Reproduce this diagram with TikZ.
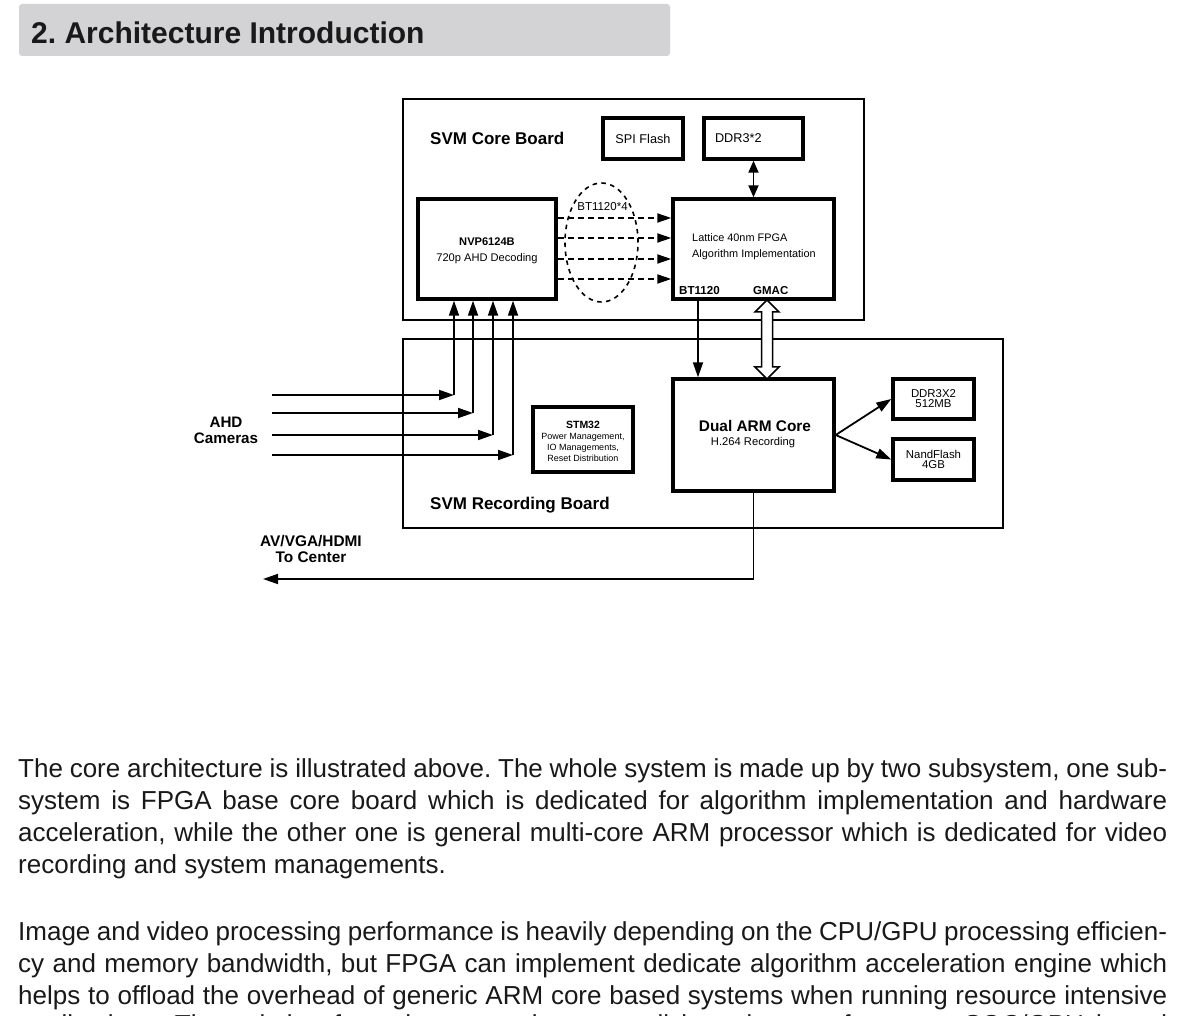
\documentclass[tikz,border=0pt]{standalone}
\usepackage{fontspec}
\setmainfont{Liberation Sans}
\usetikzlibrary{arrows.meta,calc}
\newcommand\myfs[2]{\fontsize{#1}{#2}\selectfont}
\definecolor{titlegray}{RGB}{211,211,213}
\definecolor{txtc}{RGB}{25,25,25}
\frenchspacing
\begin{document}
\begin{tikzpicture}[x=1pt,y=-1pt,
  brd/.style={draw, line width=2.4pt, inner sep=0pt},
  blk/.style={draw, line width=3.4pt, inner sep=0pt, fill=white},
  lbl/.style={inner sep=0pt, text=black},
  arr/.style={line width=1.8pt, -{Triangle[length=15pt,width=10pt]}},
  darr/.style={line width=1.8pt, dash pattern=on 6pt off 4pt, -{Triangle[length=14pt,width=9pt]}},
  dbl/.style={line width=1.8pt, {Triangle[length=12pt,width=10pt]}-{Triangle[length=12pt,width=10pt]}},
  body/.style={anchor=base west, inner sep=0pt, text=txtc, font=\myfs{26}{32}}
]
\useasboundingbox (0,0) rectangle (1192,1016);
\clip (0,0) rectangle (1192,1016);
\fill[white] (0,0) rectangle (1192,1016);

% title
\node[fill=titlegray, rounded corners=3pt, minimum width=651pt, minimum height=52pt, inner sep=0pt] (titlebox) at (344.5,30) {};
\node[anchor=base west, inner sep=0pt, text=txtc, font=\bfseries\myfs{30}{36}] (title) at (31,43.5) {2. Architecture Introduction};

% boards
\node[brd, minimum width=461pt, minimum height=221pt] (core) at (633.5,209.5) {};
\node[brd, minimum width=600pt, minimum height=189pt] (rec) at (703,433.5) {};
\node[lbl, anchor=west, font=\bfseries\myfs{17}{20}] (coretitle) at (430,138) {SVM Core Board};
\node[lbl, anchor=west, font=\bfseries\myfs{17}{20}] (rectitle) at (430,505) {SVM Recording Board};

% core board blocks
\node[blk, minimum width=80pt, minimum height=41pt, font=\myfs{12.7}{14}] (spi) at (643,138.5) {SPI Flash};
\node[blk, minimum width=99pt, minimum height=41pt, font=\myfs{12.7}{14}, inner xsep=11pt, text width=77pt, align=left] (ddr) at (753.5,138.5) {DDR3*2};
\node[blk, minimum width=138pt, minimum height=100pt] (nvp) at (487,249) {};
\node[lbl, align=center, font=\myfs{11.1}{16}] (nvptxt) at (487,251) {\textbf{NVP6124B}\\720p AHD Decoding};
\node[blk, minimum width=161pt, minimum height=100pt] (fpga) at (753.5,249) {};
\node[lbl, anchor=west, align=left, font=\myfs{10.9}{16}] (fpgatxt) at (692,247) {Lattice 40nm FPGA\\Algorithm Implementation};
\node[lbl, anchor=west, font=\bfseries\myfs{11.6}{13}] (bt) at (679,291) {BT1120};
\node[lbl, anchor=west, font=\bfseries\myfs{11.5}{13}] (gmac) at (753,291) {GMAC};

% BT1120*4 bundle
\draw[line width=1.6pt, dash pattern=on 4.5pt off 4.5pt] (601.5,242.5) ellipse [x radius=36.5pt, y radius=59.5pt];
\node[lbl, font=\myfs{11.5}{13}] (bt4) at (602.5,207) {BT1120*4};
\foreach \yy [count=\i] in {218,238,259,279} {
  \coordinate (d\i) at (0,\yy);
  \draw[darr] (nvp.east |- d\i) -- (fpga.west |- d\i);
}
\draw[dbl] (ddr.south) -- (fpga.north);

% recording board blocks
\node[blk, minimum width=100pt, minimum height=65pt] (stm) at (583,439.5) {};
\node[lbl, align=center, font=\myfs{9}{11}] (stmtxt) at (583,441) {\textbf{\myfs{10.5}{12}STM32}\\Power Management,\\IO Managements,\\Reset Distribution};
\node[blk, minimum width=161pt, minimum height=112pt] (arm) at (753.5,435) {};
\node[lbl, font=\bfseries\myfs{15.4}{18}] (armtxt) at (755,426) {Dual ARM Core};
\node[lbl, font=\myfs{11.2}{13}] (armsub) at (753,443) {H.264 Recording};
\node[blk, minimum width=81pt, minimum height=40pt, align=center, font=\myfs{11.4}{10}] (ddrx) at (933.5,399) {DDR3X2\\512MB};
\node[blk, minimum width=81pt, minimum height=41pt, align=center, font=\myfs{11.4}{10}] (nand) at (933.5,459.5) {NandFlash\\4GB};

\draw[arr] (arm.east) -- (ddrx.west);
\draw[arr] (arm.east) -- (nand.west);

% BT1120 link
\coordinate (btx) at (698,0);
\draw[arr] (fpga.south -| btx) -- (arm.north -| btx);

% GMAC hollow double arrow
\draw[line width=1.5pt, fill=white, line join=miter]
  (767,300) -- (779,312) -- (772.5,312) -- (772.5,367) -- (779,367) -- (767,379)
  -- (755,367) -- (761.5,367) -- (761.5,312) -- (755,312) -- cycle;

% cameras
\node[lbl, align=center, font=\bfseries\myfs{15.2}{16}] (cams) at (226,430) {AHD\\Cameras};
\foreach \yy/\xx [count=\i] in {395/454,413/473,435/493,455/513} {
  \coordinate (c\i) at (272,\yy);
  \coordinate (j\i) at (\xx,\yy);
  \draw[arr] (c\i) -- (j\i);
  \draw[arr] (j\i) -- (nvp.south -| j\i);
}

% output
\node[lbl, align=center, font=\bfseries\myfs{15.4}{16}] (outtxt) at (311,549) {AV/VGA/HDMI\\To Center};
\coordinate (outend) at (263,579);
\draw[arr] (arm.south) |- (outend);

% body text
\node[body] (p1a) at (18,777) {\makebox[1149pt][s]{The core architecture is illustrated above. The whole system is made up by two subsystem, one sub-}};
\node[body] (p1b) at (18,809) {\makebox[1149pt][s]{system is FPGA base core board which is dedicated for algorithm implementation and hardware}};
\node[body] (p1c) at (18,841) {\makebox[1149pt][s]{acceleration, while the other one is general multi-core ARM processor which is dedicated for video}};
\node[body] (p1d) at (18,873) {recording and system managements.};
\node[body] (p2a) at (18,940) {\makebox[1149pt][s]{Image and video processing performance is heavily depending on the CPU/GPU processing efficien-}};
\node[body] (p2b) at (18,972) {\makebox[1149pt][s]{cy and memory bandwidth, but FPGA can implement dedicate algorithm acceleration engine which}};
\node[body] (p2c) at (18,1004) {\makebox[1149pt][s]{helps to offload the overhead of generic ARM core based systems when running resource intensive}};
\node[body] (p2d) at (18,1033) {\makebox[1149pt][s]{applications. The solution from the competitors are all based on performance SOC/GPU based}};
\end{tikzpicture}
\end{document}
